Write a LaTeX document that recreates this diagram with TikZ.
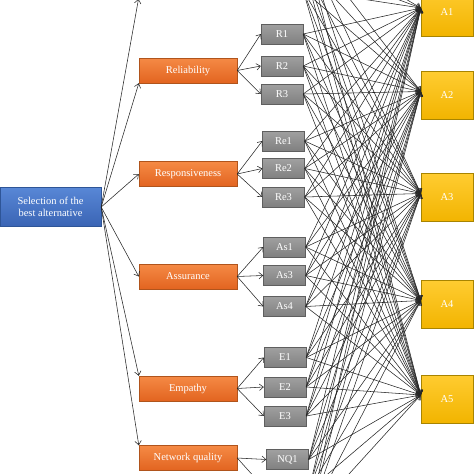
\documentclass[tikz,border=0pt]{standalone}
\usepackage{fontspec}
\setmainfont{Liberation Serif}
\usetikzlibrary{arrows.meta, positioning}

\definecolor{selTop}{HTML}{5887D6}
\definecolor{selBot}{HTML}{3A64B4}
\definecolor{selLine}{HTML}{2E5597}
\definecolor{critTop}{HTML}{F58A45}
\definecolor{critBot}{HTML}{E26420}
\definecolor{critLine}{HTML}{B0541C}
\definecolor{subTop}{HTML}{A0A0A0}
\definecolor{subBot}{HTML}{808080}
\definecolor{subLine}{HTML}{5F5F5F}
\definecolor{altTop}{HTML}{FFCC30}
\definecolor{altBot}{HTML}{F2B400}
\definecolor{altLine}{HTML}{A88400}

\begin{document}
\begin{tikzpicture}[x=1pt, y=-1pt,
    every node/.style={font=\fontsize{10.5}{12.5}\selectfont, text=white, inner sep=0pt},
    mainbox/.style={draw=selLine, top color=selTop, bottom color=selBot, minimum width=101pt, minimum height=39pt, align=center},
    critbox/.style={draw=critLine, top color=critTop, bottom color=critBot, minimum width=98pt, minimum height=25pt},
    subbox/.style={draw=subLine, top color=subTop, bottom color=subBot, minimum width=42pt, minimum height=20pt},
    altbox/.style={draw=altLine, top color=altTop, bottom color=altBot, minimum width=52pt, minimum height=48pt},
    link/.style={-{Straight Barb[length=4pt,width=6.5pt]}, black!85, line width=0.55pt}]
    \useasboundingbox (0,0) rectangle (474,474);
    \clip (0,0) rectangle (474,474);

    % Goal
    \node[mainbox] (sel) at (50.5,207) {Selection of the\\best alternative};

    % Criteria
    \foreach \n/\y/\t in {
        rel/70.5/Reliability,
        resp/174/Responsiveness,
        assu/276.5/Assurance,
        emp/388.5/Empathy,
        netq/458/Network quality
    } {
        \node[critbox] (\n) at (188,\y) {\t};
    }

    % Sub-criteria
    \foreach \n/\x/\y in {
        R1/282/34, R2/282/66, R3/282/94,
        Re1/283.5/141, Re2/283.5/168.5, Re3/283.5/197,
        As1/284.5/247, As3/284.5/275.5, As4/284.5/306.5,
        E1/285/357.5, E2/285/387, E3/285/416,
        NQ1/287.5/459.5
    } {
        \node[subbox] (\n) at (\x,\y) {\n};
    }

    % Alternatives
    \foreach \i/\y in {1/12, 2/95.5, 3/197.5, 4/304.5, 5/399} {
        \node[altbox] (A\i) at (447,\y) {A\i};
        \coordinate (in\i) at ([yshift=4pt]A\i.west);
    }

    % Ends outside the frame
    \coordinate (tang) at (138.5,-1);
    \coordinate (T1) at (303,-62);
    \coordinate (T2) at (303,-36);
    \coordinate (T3) at (303,-10);
    \coordinate (nqin) at (266,490);
    \coordinate (NQ2) at (309,490);
    \coordinate (NQ3) at (309,518);

    % Goal to criteria
    \draw[link] (sel.east) -- (tang);
    \foreach \t in {rel.south west, resp.west, assu.west, emp.north west, netq.north west}
        \draw[link] (sel.east) -- (\t);

    % Criteria to sub-criteria
    \foreach \c/\s in {rel/R1, rel/R2, rel/R3, resp/Re1, resp/Re2, resp/Re3,
        assu/As1, assu/As3, assu/As4, emp/E1, emp/E2, emp/E3, netq/NQ1}
        \draw[link] (\c.east) -- (\s.west);
    \draw[link] (netq.east) -- (nqin);

    % Sub-criteria to alternatives
    \foreach \s in {R1,R2,R3,Re1,Re2,Re3,As1,As3,As4,E1,E2,E3,NQ1}
        \foreach \i in {1,...,5}
            \draw[link] (\s.east) -- (in\i);
    \foreach \s in {T1,T2,T3,NQ2,NQ3}
        \foreach \i in {1,...,5}
            \draw[link] (\s) -- (in\i);
\end{tikzpicture}
\end{document}
